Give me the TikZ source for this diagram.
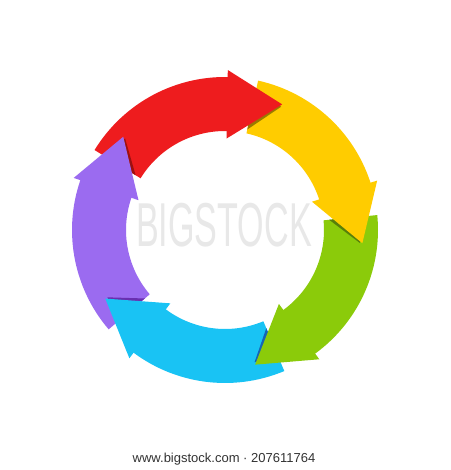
\documentclass[tikz,border=0pt]{standalone}
\usepackage{fontspec}
\setmainfont{Liberation Sans}
\definecolor{cred}{HTML}{EE1C1E}
\definecolor{cyel}{HTML}{FFCC00}
\definecolor{cgrn}{HTML}{8BCB0A}
\definecolor{ccya}{HTML}{19C3F4}
\definecolor{cpur}{HTML}{9B6BF0}
\definecolor{dred}{HTML}{9E1010}
\definecolor{dyel}{HTML}{9A7A00}
\definecolor{dgrn}{HTML}{587F0A}
\definecolor{dcya}{HTML}{1565B5}
\definecolor{dpur}{HTML}{6A2FB0}
\newcommand{\arbody}[2]{%
  \pgfmathsetmacro\bb{#1-61.5}%
  \fill[#2] (#1:153) arc[start angle=#1, end angle=\bb, radius=153]
    -- (\bb:99) arc[start angle=\bb, end angle=#1, radius=99] -- cycle;}
\newcommand{\arhead}[2]{%
  \pgfmathsetmacro\bb{#1-59.5}\pgfmathsetmacro\pp{#1-83}%
  \fill[#2] (\bb:160) -- (\pp:138) -- (\bb:91.5) -- cycle;}
\newcommand{\arshadow}[3]{%
  \pgfmathsetmacro\bb{#1-59.5}\pgfmathsetmacro\pp{#1-83}%
  \pgfmathsetmacro\nb{#2-61.5}%
  \begin{scope}
    \clip (#2:153) arc[start angle=#2, end angle=\nb, radius=153]
      -- (\nb:99) arc[start angle=\nb, end angle=#2, radius=99] -- cycle;
    \fill[#3] (\bb:156) -- (\pp:135.5) -- (\bb:86.5) -- cycle;
  \end{scope}}
\begin{document}
\begin{tikzpicture}[x=1pt,y=1pt]
\useasboundingbox (0,0) rectangle (450,470);
\fill[white] (0,0) rectangle (450,470);
\begin{scope}[shift={(225,240)}]
  \node[text=black!9, inner sep=0pt, xscale=0.55,
        font=\fontsize{62}{62}\selectfont] (wm) at (-1,5) {BIGSTOCK};
  % bodies
  \arbody{148.5}{cred}
  \arbody{77.5}{cyel}
  \arbody{5.6}{cgrn}
  \arbody{-67.2}{ccya}
  \arbody{-139.5}{cpur}
  % shadows of heads on the next tails
  \arshadow{148.5}{77.5}{dyel}
  \arshadow{77.5}{5.6}{dgrn}
  \arshadow{5.6}{-67.2}{dcya}
  \arshadow{-67.2}{-139.5}{dpur}
  \arshadow{-139.5}{-211.5}{dred}
  % heads
  \arhead{148.5}{cred}
  \arhead{77.5}{cyel}
  \arhead{5.6}{cgrn}
  \arhead{-67.2}{ccya}
  \arhead{-139.5}{cpur}
\end{scope}
\node[text=black!80, inner sep=0pt, font=\fontsize{13}{13}\selectfont]
  (credit) at (224,11) {www.bigstock.com · 207611764};
\end{tikzpicture}
\end{document}
